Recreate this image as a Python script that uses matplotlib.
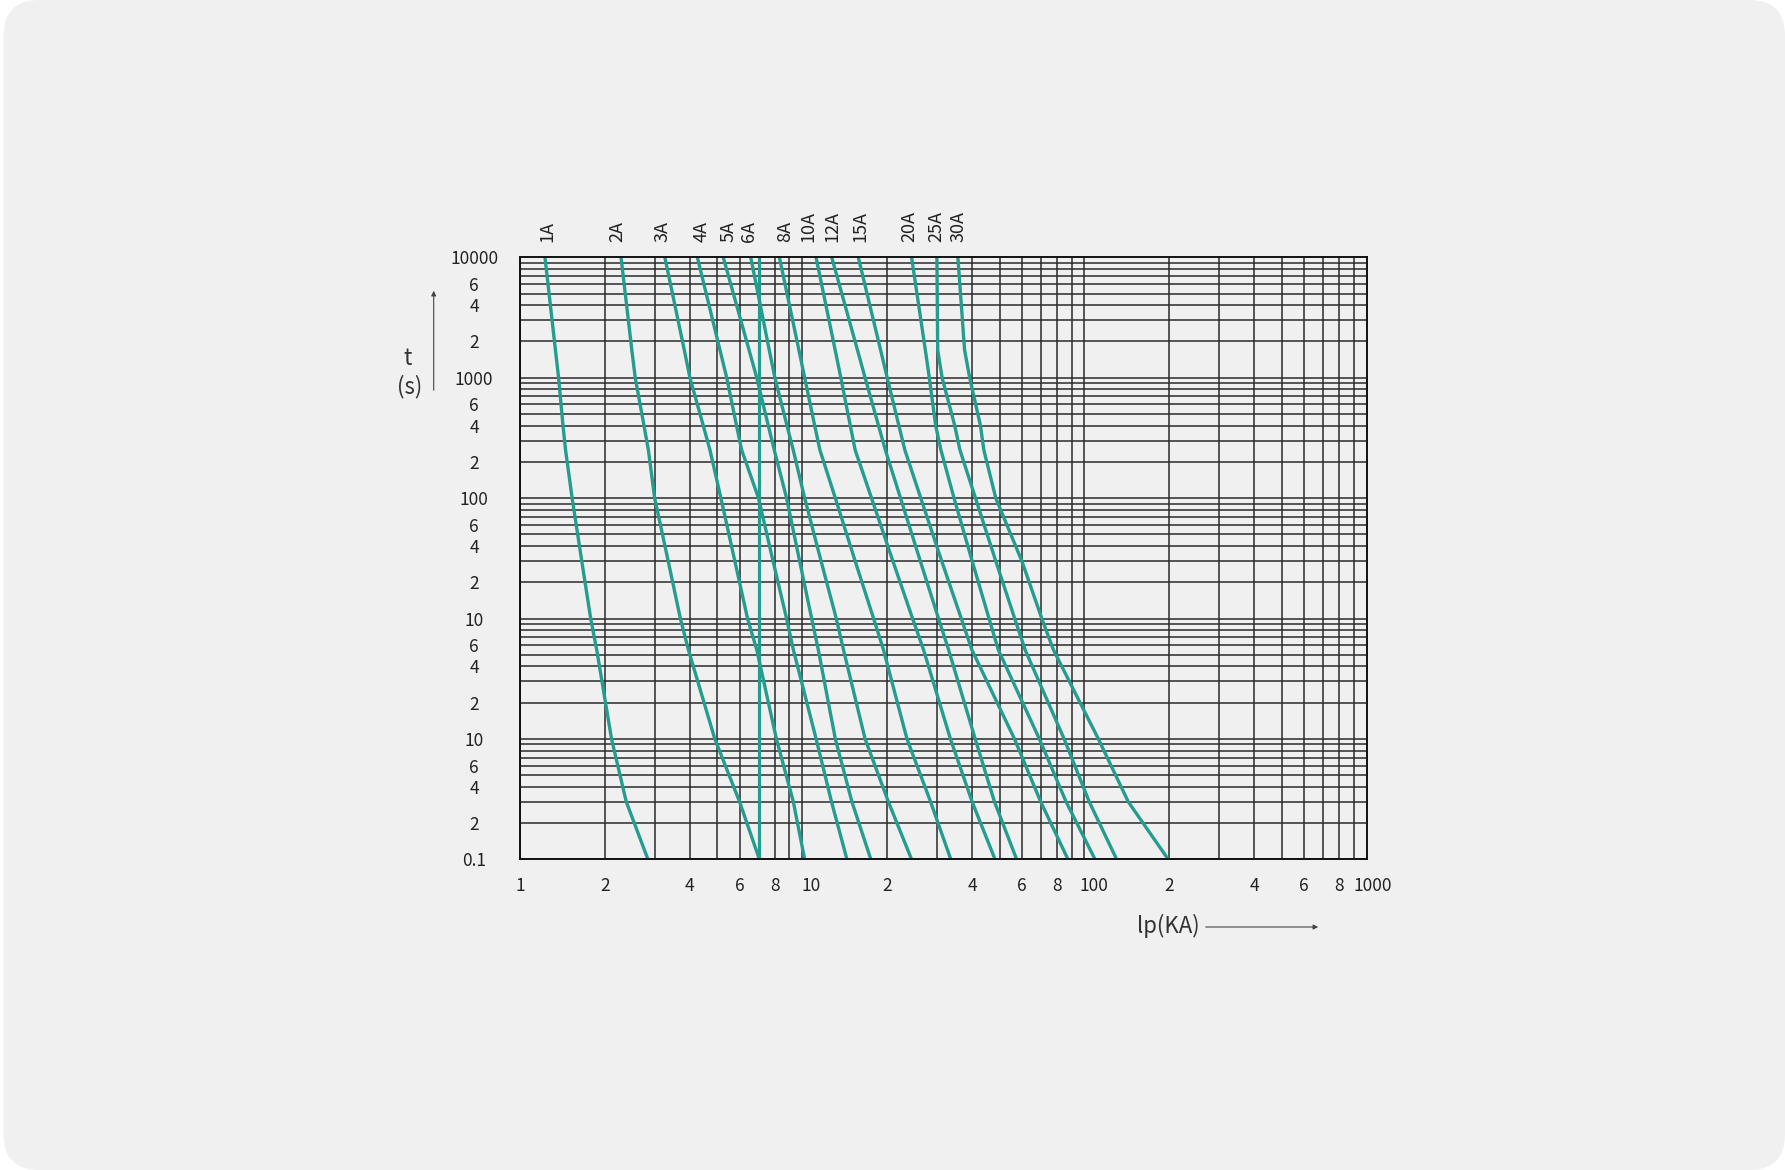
import matplotlib
matplotlib.use("Agg")
import matplotlib.pyplot as plt
from matplotlib.patches import FancyBboxPatch
from matplotlib.transforms import ScaledTranslation

plt.rcParams['font.family'] = ['Noto Sans CJK SC', 'DejaVu Sans']

t_levels = [10000, 1700, 1000, 400, 251, 100, 30, 10, 5.5, 1, 0.3, 0.1]

# prospective current (kA) for each rating at the time levels above
ratings = ['1A', '2A', '3A', '4A', '5A', '6A', '8A', '10A', '12A', '15A', '20A', '25A', '30A']
i_1a = [1.226, 1.335, 1.37, 1.42, 1.45, 1.53, 1.655, 1.78, 1.87, 2.11, 2.38, 2.84]
i_2a = [2.28, 2.49, 2.56, 2.75, 2.85, 3.0, 3.35, 3.7, 3.95, 4.9, 6.0, 7.05]
i_3a = [3.26, 3.82, 4.0, 4.46, 4.71, 5.15, 5.77, 6.4, 6.9, 8.1, 9.3, 10.2]
i_4a = [4.25, 5.11, 5.4, 5.85, 6.1, 7.0, 7.88, 8.8, 9.3, 11.2, 12.7, 14.4]
i_5a = [5.25, 6.48, 6.9, 7.58, 7.96, 8.8, 9.79, 10.8, 11.4, 13.1, 15.0, 17.5]
i_6a = [6.57, 7.64, 8.0, 8.83, 9.29, 10.2, 11.66, 13.2, 14.0, 16.7, 20.2, 24.4]
i_8a = [8.3, 9.73, 10.2, 11.07, 11.55, 13.1, 15.4, 17.9, 19.4, 23.5, 28.5, 33.6]
i_10a = [11.19, 13.08, 13.7, 14.8, 15.4, 17.6, 20.95, 24.6, 26.9, 33.5, 40.0, 48.2]
i_12a = [12.72, 15.69, 16.7, 18.63, 19.7, 22.3, 26.2, 30.4, 33.0, 41.0, 48.0, 57.5]
i_15a = [15.8, 18.95, 20.0, 22.0, 23.1, 26.3, 31.2, 36.6, 39.9, 56.5, 70.0, 87.4]
i_20a = [24.4, 27.3, 28.2, 29.7, 31.0, 34.5, 40.0, 45.9, 49.5, 69.2, 86.1, 109]
i_25a = [30.0, 30.2, 31.3, 34.7, 36.2, 41.1, 48.5, 56.6, 61.6, 84.7, 104, 130]
i_30a = [35.6, 37.6, 39.2, 42.8, 44.0, 48.5, 60.0, 70.6, 77.6, 112, 143, 198]
curves = [i_1a, i_2a, i_3a, i_4a, i_5a, i_6a, i_8a, i_10a, i_12a, i_15a, i_20a, i_25a, i_30a]

# where the rating names sit above the frame (kA)
label_x = [1.25, 2.21, 3.2, 4.39, 5.48, 6.47, 8.7, 10.5, 12.8, 16.1, 24.0, 29.8, 35.8]

# extra vertical teal line drawn on the original sheet
teal_vline = [7]

x_ticks = [1, 2, 4, 6, 8, 10, 20, 40, 60, 80, 100, 200, 400, 600, 800, 1000]
x_labels = ['1', '2', '4', '6', '8', '10', '2', '4', '6', '8', '100', '2', '4', '6', '8', '1000']
y_ticks = [10000, 6000, 4000, 2000, 1000, 600, 400, 200, 100, 60, 40, 20,
           10, 6, 4, 2, 1, 0.6, 0.4, 0.2, 0.1]
y_labels = ['10000', '6', '4', '2', '1000', '6', '4', '2', '100', '6', '4', '2',
            '10', '6', '4', '2', '10', '6', '4', '2', '0.1']

TEAL = '#249d8e'
GRID = '#2a2a2a'

W, H = 1785, 1170
fig = plt.figure(figsize=(W / 100, H / 100), dpi=100)
fig.patch.set_facecolor('white')
card = FancyBboxPatch((0.002, 0.0), 0.998, 1.0, boxstyle='round,pad=0,rounding_size=0.02',
                      mutation_aspect=W / H, transform=fig.transFigure,
                      facecolor='#f0f0f0', edgecolor='none', zorder=-10)
fig.patches.append(card)

ax = fig.add_axes([520 / W, 1 - 859.3 / H, 846.7 / W, 602 / H])
ax.set_facecolor('#f0f0f0')
ax.set_xscale('log')
ax.set_yscale('log')
ax.set_xlim(1, 1000)
ax.set_ylim(0.1, 10000)

# log paper grid: every 1..9 step of each decade
grid_x = [m * 10 ** k for k in range(3) for m in range(1, 10)]
grid_y = [m * 10.0 ** k for k in range(-1, 4) for m in range(1, 10)]
for gx in grid_x:
    ax.axvline(gx, color=GRID, lw=1.1, zorder=1)
for gy in grid_y:
    ax.axhline(gy, color=GRID, lw=1.1, zorder=1)

for vx in teal_vline:
    ax.axvline(vx, color=TEAL, lw=2.3, zorder=3)

for name, cur, lx in zip(ratings, curves, label_x):
    ax.plot(cur, t_levels, color=TEAL, lw=2.4, zorder=4, solid_capstyle='butt')
    ax.annotate(name, xy=(lx, t_levels[0]), xytext=(0, 11), textcoords='offset points',
                rotation=90, ha='center', va='bottom', fontsize=13, color='#222222')

ax.set_xticks(x_ticks)
ax.set_xticklabels(x_labels)
ax.set_yticks(y_ticks)
ax.set_yticklabels(y_labels)
ax.xaxis.set_minor_locator(matplotlib.ticker.NullLocator())
ax.yaxis.set_minor_locator(matplotlib.ticker.NullLocator())
ax.tick_params(axis='both', length=0, labelsize=12.5, colors='#222222')
ax.tick_params(axis='x', pad=13)
ax.tick_params(axis='y', pad=33)
for lab in ax.get_yticklabels():
    lab.set_horizontalalignment('center')
# multi-digit x labels sit a little right of their grid line on the sheet
for lab in ax.get_xticklabels():
    txt = lab.get_text()
    if len(txt) > 1:
        shift = 0.06 if txt == '1000' else 0.09
        lab.set_transform(lab.get_transform() + ScaledTranslation(shift, 0, fig.dpi_scale_trans))

for sp in ax.spines.values():
    sp.set_color('#111111')
    sp.set_linewidth(1.4)
    sp.set_zorder(5)

# axis titles with their arrows
fig.text(407.5 / W, 1 - 358.6 / H, 't', ha='center', va='center', fontsize=16, color='#333333')
fig.text(410 / W, 1 - 387 / H, '(s)', ha='center', va='center', fontsize=16, color='#333333')
ax.annotate('', xy=(433.7 / W, 1 - 288 / H), xytext=(433.7 / W, 1 - 393 / H),
            xycoords='figure fraction', textcoords='figure fraction',
            arrowprops=dict(arrowstyle='-|>', color='#444444', lw=0.8, mutation_scale=7))
fig.text(1168 / W, 1 - 925.5 / H, 'lp(KA)', ha='center', va='center', fontsize=16, color='#333333')
ax.annotate('', xy=(1321 / W, 1 - 927 / H), xytext=(1203 / W, 1 - 927 / H),
            xycoords='figure fraction', textcoords='figure fraction',
            arrowprops=dict(arrowstyle='-|>', color='#444444', lw=0.8, mutation_scale=7))

fig.savefig('out.png', dpi=100, facecolor=fig.get_facecolor())
